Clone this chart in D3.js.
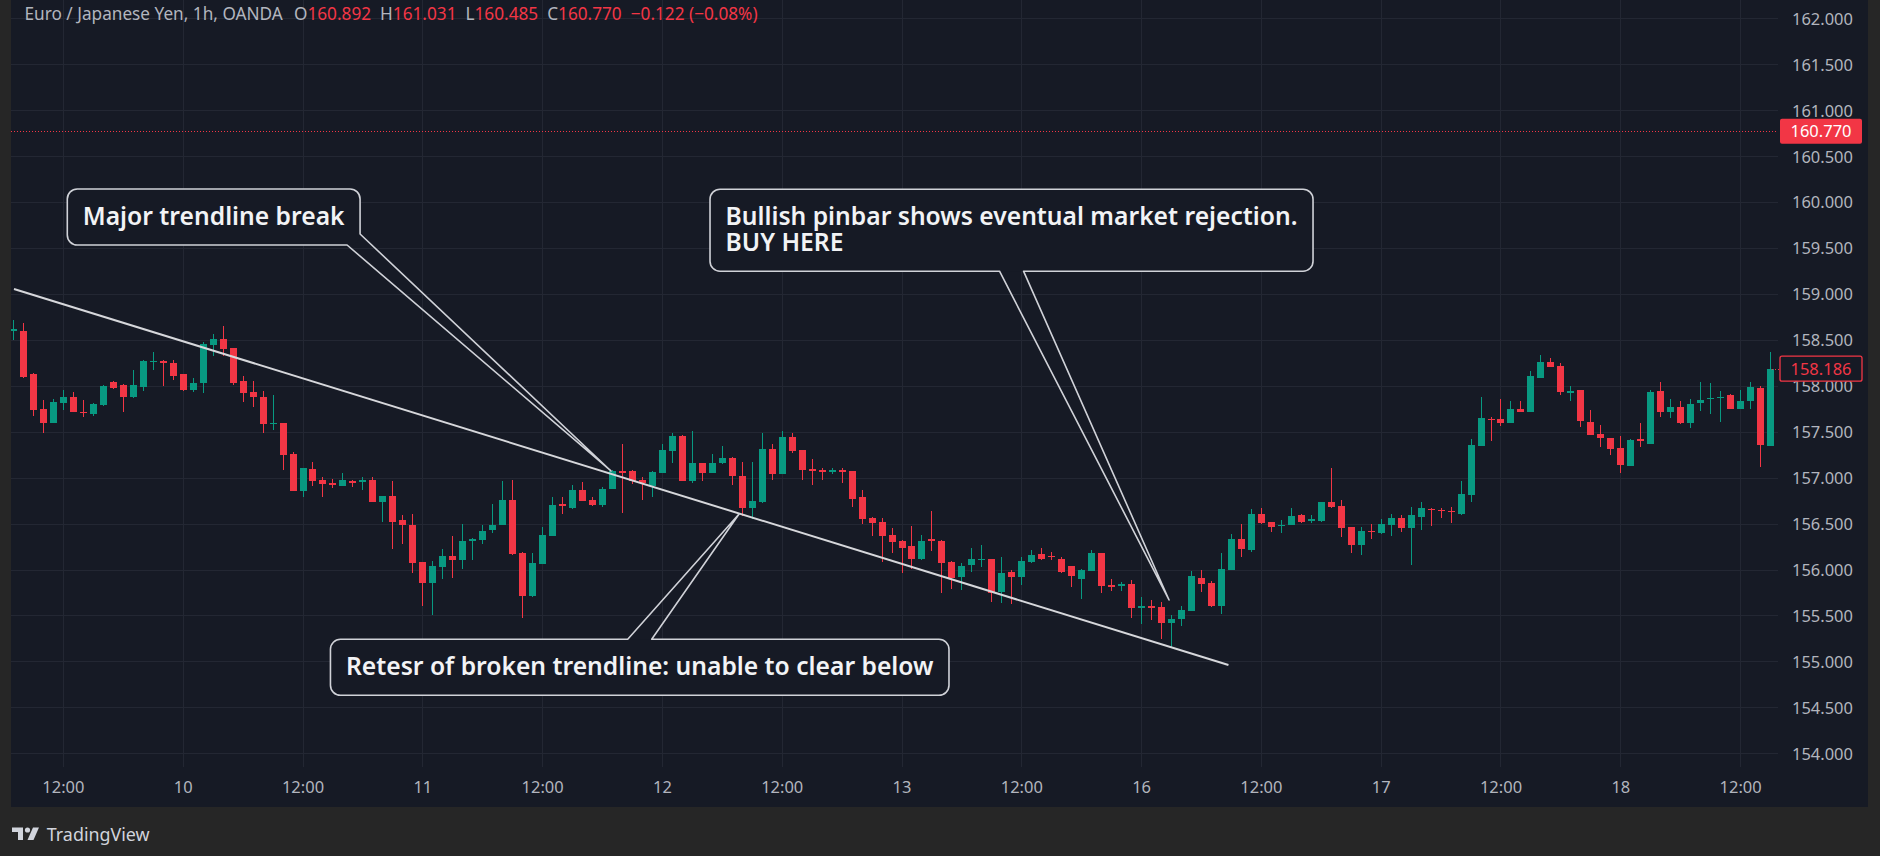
<!DOCTYPE html>
<html><head><meta charset="utf-8">
<script src="https://cdn.jsdelivr.net/npm/d3@7"></script>
<style>
html,body{margin:0;padding:0;background:#262626;overflow:hidden;}
svg{display:block;}
</style></head><body>
<svg id="chart" width="1880" height="856"></svg>
<script>
// ---------- DATA (1h bars, EUR/JPY, OANDA) ----------
const open = [
158.60,158.60,158.13,157.75,157.59,157.81,157.88,157.72,157.69,157.79,
158.04,158.01,157.88,157.99,158.26,158.27,158.25,158.13,157.95,158.03,
158.44,158.51,158.41,158.05,157.93,157.88,157.58,157.59,157.26,156.86,
157.09,156.97,156.94,156.91,156.96,156.95,156.97,156.73,156.80,156.54,
156.48,156.08,155.85,156.03,156.15,156.10,156.32,156.32,156.43,156.48,
156.76,156.18,155.71,156.06,156.36,156.71,156.67,156.87,156.76,156.70,
156.88,157.07,157.07,156.97,156.91,157.05,157.29,157.45,156.96,157.16,
157.05,157.16,157.21,157.02,156.67,156.73,157.31,157.04,157.44,157.30,
157.09,157.08,157.07,157.08,157.07,156.79,156.56,156.52,156.38,156.31,
156.26,156.11,156.33,156.31,156.08,155.92,156.05,156.11,156.12,155.76,
155.97,155.92,156.08,156.17,156.15,156.11,156.04,155.90,155.98,156.18,
155.83,155.83,155.84,155.59,155.60,155.59,155.42,155.46,155.55,155.91,
155.85,155.60,156.00,156.33,156.21,156.60,156.52,156.48,156.48,156.59,
156.54,156.53,156.74,156.69,156.46,156.27,156.42,156.40,156.49,156.56,
156.45,156.57,156.66,156.65,156.64,156.60,156.81,157.34,157.64,157.64,
157.59,157.75,157.72,158.08,158.26,158.22,157.93,157.95,157.61,157.47,
157.43,157.32,157.13,157.42,157.37,157.94,157.71,157.77,157.59,157.81,
157.86,157.87,157.90,157.75,157.83,157.98,157.35];
const high = [
158.72,158.68,158.14,157.85,157.86,157.95,157.93,157.85,157.81,158.01,
158.05,158.02,158.17,158.28,158.37,158.28,158.28,158.13,158.08,158.48,
158.56,158.65,158.41,158.11,158.05,157.94,157.90,157.60,157.28,157.10,
157.17,157.01,156.99,157.05,156.98,157.01,157.01,156.80,156.96,156.59,
156.61,156.08,156.09,156.22,156.36,156.50,156.34,156.49,156.71,156.96,
156.97,156.19,156.18,156.46,156.79,156.79,156.92,156.95,156.79,156.90,
157.08,157.37,157.08,157.01,157.07,157.37,157.49,157.46,157.51,157.16,
157.26,157.34,157.23,157.17,157.17,157.49,157.37,157.51,157.49,157.30,
157.20,157.10,157.10,157.10,157.07,156.87,156.57,156.56,156.45,156.32,
156.47,156.38,156.64,156.32,156.09,156.07,156.23,156.27,156.12,156.14,
155.99,156.14,156.21,156.23,156.19,156.14,156.04,156.01,156.21,156.18,
155.90,155.86,155.89,155.70,155.67,155.65,155.50,155.60,155.98,156.00,
155.87,156.18,156.39,156.50,156.66,156.67,156.52,156.54,156.67,156.60,
156.59,156.74,157.11,156.76,156.46,156.46,156.50,156.55,156.61,156.59,
156.68,156.74,156.67,156.67,156.68,156.96,157.42,157.88,157.66,157.86,
157.83,157.84,158.16,158.33,158.30,158.25,158.00,157.95,157.74,157.57,
157.43,157.45,157.42,157.59,157.95,158.04,157.86,157.83,157.86,158.04,
158.03,157.94,157.91,157.95,158.04,158.00,158.37];
const low = [
158.50,158.09,157.67,157.49,157.59,157.74,157.71,157.66,157.67,157.78,
157.97,157.71,157.87,157.94,158.17,158.00,158.06,157.94,157.93,157.92,
158.32,158.32,158.01,157.82,157.77,157.49,157.52,157.08,156.86,156.79,
156.91,156.79,156.89,156.91,156.90,156.87,156.73,156.52,156.22,156.28,
155.96,155.60,155.51,155.90,155.91,156.01,156.10,156.28,156.40,156.48,
156.16,155.47,155.70,156.06,156.36,156.61,156.66,156.75,156.69,156.68,
156.88,156.62,156.93,156.76,156.79,157.05,157.16,156.96,156.94,156.96,
157.05,157.15,156.92,156.58,156.55,156.72,156.97,157.04,157.27,156.97,
156.92,156.97,157.04,156.94,156.68,156.50,156.36,156.08,156.18,155.96,
156.01,156.10,156.20,155.75,155.79,155.78,155.97,156.03,155.65,155.64,
155.63,155.83,156.07,156.10,156.10,155.96,155.81,155.68,155.98,155.75,
155.77,155.77,155.47,155.41,155.45,155.24,155.16,155.39,155.55,155.76,
155.59,155.52,156.00,156.14,156.19,156.50,156.41,156.40,156.48,156.51,
156.51,156.52,156.67,156.35,156.18,156.16,156.33,156.39,156.37,156.41,
156.05,156.43,156.47,156.56,156.51,156.59,156.74,157.34,157.40,157.56,
157.59,157.71,157.72,158.08,158.21,157.90,157.84,157.55,157.46,157.33,
157.25,157.05,157.13,157.33,157.37,157.66,157.65,157.58,157.54,157.73,
157.69,157.61,157.75,157.75,157.75,157.12,157.35];
const close = [
158.62,158.10,157.74,157.59,157.82,157.88,157.71,157.70,157.80,158.00,
157.98,157.88,158.01,158.27,158.27,158.25,158.11,157.95,158.03,158.46,
158.51,158.40,158.03,157.92,157.88,157.58,157.60,157.25,156.86,157.10,
156.96,156.93,156.93,156.98,156.95,156.97,156.73,156.80,156.52,156.48,
156.07,155.85,156.04,156.15,156.10,156.31,156.33,156.42,156.49,156.76,
156.17,155.71,156.07,156.38,156.70,156.69,156.87,156.75,156.70,156.88,
157.07,157.06,156.96,156.94,157.06,157.30,157.45,156.96,157.16,157.05,
157.16,157.21,157.02,156.67,156.75,157.31,157.04,157.44,157.29,157.08,
157.07,157.07,157.08,157.06,156.77,156.55,156.51,156.37,156.30,156.24,
156.11,156.31,156.32,156.07,155.91,156.04,156.12,156.12,155.75,155.96,
155.92,156.09,156.16,156.12,156.14,155.97,155.93,155.99,156.18,155.82,
155.82,155.84,155.58,155.60,155.58,155.42,155.46,155.56,155.93,155.84,
155.60,156.01,156.33,156.22,156.60,156.51,156.46,156.49,156.58,156.52,
156.55,156.74,156.68,156.45,156.27,156.42,156.41,156.50,156.56,156.45,
156.59,156.67,156.65,156.64,156.63,156.82,157.36,157.65,157.63,157.60,
157.75,157.72,158.11,158.26,158.21,157.93,157.94,157.62,157.46,157.43,
157.31,157.14,157.41,157.41,157.93,157.71,157.77,157.59,157.80,157.85,
157.87,157.88,157.75,157.83,157.99,157.36,158.186];

const tickBars   = [5,17,29,41,53,65,77,89,101,113,125,137,149,161,173];
const tickLabels = ["12:00","10","12:00","11","12:00","12","12:00","13","12:00","16","12:00","17","12:00","18","12:00"];
const priceMin = 154, priceMax = 162;
const lastPrice = 160.770;
const lastVisible = 158.186;

const headerTitle = "Euro / Japanese Yen, 1h, OANDA";
const headerKeys = ["O","H","L","C"];
const headerVals = ["160.892","161.031","160.485","160.770"];
const headerChange = "\u22120.122 (\u22120.08%)";

// trendline anchors (bar index, price)
const trendBars = [0.1, 121.75];
const trendPrices = [159.054, 154.961];

// callout annotations (anchors in bar / price space)
const annoLines = [["Major trendline break"],
                   ["Bullish pinbar shows eventual market rejection.","BUY HERE"],
                   ["Retesr of broken trendline: unable to clear below"]];
const annoBar   = [5.44, 69.82, 31.8];
const annoPrice = [160.142, 160.14, 155.241];
const tipBar    = [59.9, 115.8, 72.73];
const tipPrice  = [157.073, 155.669, 156.605];
const tailSide  = ["corner","bottom","top"];

// ---------- LAYOUT / STYLE ----------
const W = 1880, H = 856;
const panel = {x0: 11, x1: 1868, y0: 0, y1: 807};
const plot  = {x0: 11, x1: 1778, y0: 0, y1: 767};
const BG = "#161a25", GRID = "#232733", AXIS_TXT = "#b2b5be";
const UP = "#089981", DOWN = "#f23645";
const FONT = "'Noto Sans', 'DejaVu Sans', sans-serif";

const svg = d3.select("#chart");
svg.append("rect").attr("width", W).attr("height", H).attr("fill", "#262626");
svg.append("rect").attr("x", panel.x0).attr("y", panel.y0)
   .attr("width", panel.x1 - panel.x0).attr("height", panel.y1 - panel.y0).attr("fill", BG);

const x = d3.scaleLinear().domain([5, 173]).range([62.9, 1740.1]);
const y = d3.scaleLinear().domain([priceMin, priceMax]).range([753.3, 18.3]);

svg.append("defs").append("clipPath").attr("id", "plotclip")
   .append("rect").attr("x", plot.x0).attr("y", plot.y0)
   .attr("width", plot.x1 - plot.x0).attr("height", plot.y1 - plot.y0);

const g = svg.append("g").attr("clip-path", "url(#plotclip)");

// grid
const yTicks = y.ticks(16);
g.append("g").selectAll("line").data(yTicks).join("line")
  .attr("x1", plot.x0).attr("x2", plot.x1)
  .attr("y1", d => Math.round(y(d)) + 0.5).attr("y2", d => Math.round(y(d)) + 0.5)
  .attr("stroke", GRID).attr("stroke-width", 1);
g.append("g").selectAll("line").data(tickBars).join("line")
  .attr("x1", d => Math.round(x(d)) + 0.5).attr("x2", d => Math.round(x(d)) + 0.5)
  .attr("y1", plot.y0).attr("y2", plot.y1)
  .attr("stroke", GRID).attr("stroke-width", 1);

// current price dotted line
g.append("line").attr("x1", plot.x0).attr("x2", plot.x1)
  .attr("y1", Math.round(y(lastPrice)) + 0.5).attr("y2", Math.round(y(lastPrice)) + 0.5)
  .attr("stroke", DOWN).attr("stroke-width", 1).attr("stroke-dasharray", "1,2");

// candles
const bars = d3.range(open.length).map(i => ({i, o: open[i], h: high[i], l: low[i], c: close[i]}));
const bodyW = 7;
const cg = g.append("g").attr("shape-rendering", "crispEdges");
const candle = cg.selectAll("g").data(bars).join("g")
  .attr("fill", d => d.c >= d.o ? UP : DOWN);
candle.append("rect")
  .attr("x", d => Math.round(x(d.i)))
  .attr("width", 1)
  .attr("y", d => y(d.h))
  .attr("height", d => Math.max(1, y(d.l) - y(d.h)));
candle.append("rect")
  .attr("x", d => Math.round(x(d.i)) - 3)
  .attr("width", bodyW)
  .attr("y", d => y(Math.max(d.o, d.c)))
  .attr("height", d => Math.max(1.5, Math.abs(y(d.o) - y(d.c))));

// trendline
g.append("line")
  .attr("x1", x(trendBars[0])).attr("y1", y(trendPrices[0]))
  .attr("x2", x(trendBars[1])).attr("y2", y(trendPrices[1]))
  .attr("stroke", "#d6d7db").attr("stroke-width", 2);

// annotations
function calloutPath(x0, y0, w, h, tx, ty, side) {
  const r = 10, x1 = x0 + w, y1 = y0 + h, cx = x0 + w / 2, hw = 12;
  let p = `M${x0 + r},${y0}`;
  if (side === "top") p += `H${cx - hw}L${tx},${ty}L${cx + hw},${y0}`;
  p += `H${x1 - r}A${r},${r} 0 0 1 ${x1},${y0 + r}`;
  if (side === "corner") {
    p += `V${y1 - 11}L${tx},${ty}L${x1 - 13},${y1}`;
  } else {
    p += `V${y1 - r}A${r},${r} 0 0 1 ${x1 - r},${y1}`;
    if (side === "bottom") p += `H${cx + hw}L${tx},${ty}L${cx - hw},${y1}`;
  }
  p += `H${x0 + r}A${r},${r} 0 0 1 ${x0},${y1 - r}V${y0 + r}A${r},${r} 0 0 1 ${x0 + r},${y0}Z`;
  return p;
}

const ag = g.append("g");
// determine annotation font size by fitting longest line
const probe = ag.append("text").attr("font-family", FONT).attr("font-weight", 600)
  .attr("font-size", 20).text(annoLines[2][0]);
const annoFS = 20 * 588 / probe.node().getComputedTextLength();
probe.remove();
const padX = 15.5, lineH = 26;
annoLines.forEach((lines, k) => {
  const bx = x(annoBar[k]), by = y(annoPrice[k]);
  const grp = ag.append("g");
  const box = grp.append("rect");
  const path = grp.append("path");
  let maxW = 0;
  lines.forEach((ln, j) => {
    const t = grp.append("text").attr("x", bx + padX).attr("y", by + 35.5 + j * lineH)
      .attr("font-family", FONT).attr("font-weight", 600).attr("font-size", annoFS)
      .attr("fill", "#f2f3f5").text(ln);
    maxW = Math.max(maxW, t.node().getComputedTextLength());
  });
  const bw = maxW + 2 * padX, bh = 30 + lines.length * lineH;
  box.attr("x", bx).attr("y", by).attr("width", bw).attr("height", bh).attr("rx", 10)
     .attr("fill", BG);
  path.attr("d", calloutPath(bx, by, bw, bh, x(tipBar[k]), y(tipPrice[k]), tailSide[k]))
     .attr("fill", "none").attr("stroke", "#d0d2d8").attr("stroke-width", 1.6)
     .attr("stroke-linejoin", "round");
  box.lower();
});

// ---------- AXES ----------
// price axis labels
const axFS = (() => {
  const t = svg.append("text").attr("font-family", FONT).attr("font-size", 16).text("162.000");
  const w = t.node().getComputedTextLength(); t.remove(); return 16 * 61 / w;
})();
const yAxis = d3.axisRight(y).tickValues(yTicks).tickFormat(d3.format(".3f")).tickSize(0).tickPadding(0);
const yg = svg.append("g").attr("transform", "translate(1792,0)").call(yAxis);
yg.select(".domain").remove();
yg.selectAll("text").attr("font-family", FONT).attr("font-size", axFS).attr("fill", AXIS_TXT)
  .attr("x", 0).attr("dy", "0.36em");

// time axis labels
const xAxis = d3.axisBottom(x).tickValues(tickBars).tickFormat((d, i) => tickLabels[i]).tickSize(0).tickPadding(0);
const xg = svg.append("g").attr("transform", `translate(0,${plot.y1})`).call(xAxis);
xg.select(".domain").remove();
xg.selectAll("text").attr("font-family", FONT).attr("font-size", axFS).attr("fill", AXIS_TXT)
  .attr("y", 20).attr("dy", "0.36em");

// price labels
function priceTag(val, filled) {
  const yy = y(val);
  svg.append("rect").attr("x", 1780).attr("y", yy - 12.5).attr("width", 82).attr("height", 25)
    .attr("rx", 2).attr("fill", filled ? DOWN : BG)
    .attr("stroke", filled ? "none" : DOWN).attr("stroke-width", 1.3);
  svg.append("text").attr("x", 1821).attr("y", yy).attr("dy", "0.36em").attr("text-anchor", "middle")
    .attr("font-family", FONT).attr("font-size", axFS).attr("fill", filled ? "#ffffff" : DOWN)
    .text(d3.format(".3f")(val));
}
priceTag(lastPrice, true);
svg.append("line").attr("x1", 1772).attr("x2", 1780)
  .attr("y1", Math.round(y(lastVisible)) + 0.5).attr("y2", Math.round(y(lastVisible)) + 0.5)
  .attr("stroke", DOWN).attr("stroke-dasharray", "1,2");
priceTag(lastVisible, false);

// ---------- HEADER ----------
const hdr = svg.append("g");
const titleT = hdr.append("text").attr("x", 24.5).attr("y", 20)
  .attr("font-family", FONT).attr("font-size", 16).attr("fill", AXIS_TXT).text(headerTitle);
const hFS = 16 * 258.5 / titleT.node().getComputedTextLength();
titleT.attr("font-size", hFS);
let cx = 24.5 + 258.5 + 11;
headerKeys.forEach((k, i) => {
  const t = hdr.append("text").attr("x", cx).attr("y", 20).attr("font-family", FONT).attr("font-size", hFS);
  t.append("tspan").attr("fill", AXIS_TXT).text(k);
  t.append("tspan").attr("fill", DOWN).text(headerVals[i]);
  cx += t.node().getComputedTextLength() + 9;
});
hdr.append("text").attr("x", cx).attr("y", 20).attr("font-family", FONT).attr("font-size", hFS)
  .attr("fill", DOWN).text(headerChange);

// ---------- TRADINGVIEW LOGO ----------
const logo = svg.append("g").attr("fill", "#d1d4dc");
logo.append("path").attr("d", "M12,827.5H23V840H18V832H12Z");
logo.append("circle").attr("cx", 27.5).attr("cy", 830).attr("r", 2.6);
logo.append("path").attr("d", "M33,827.5H39L33.5,840H27.5Z");
const tvT = logo.append("text").attr("x", 46.8).attr("y", 840.5).attr("font-family", FONT)
  .attr("font-size", 17).attr("fill", "#d1d4dc").text("TradingView");
tvT.attr("font-size", 17 * 103 / tvT.node().getComputedTextLength());
</script>
</body></html>
